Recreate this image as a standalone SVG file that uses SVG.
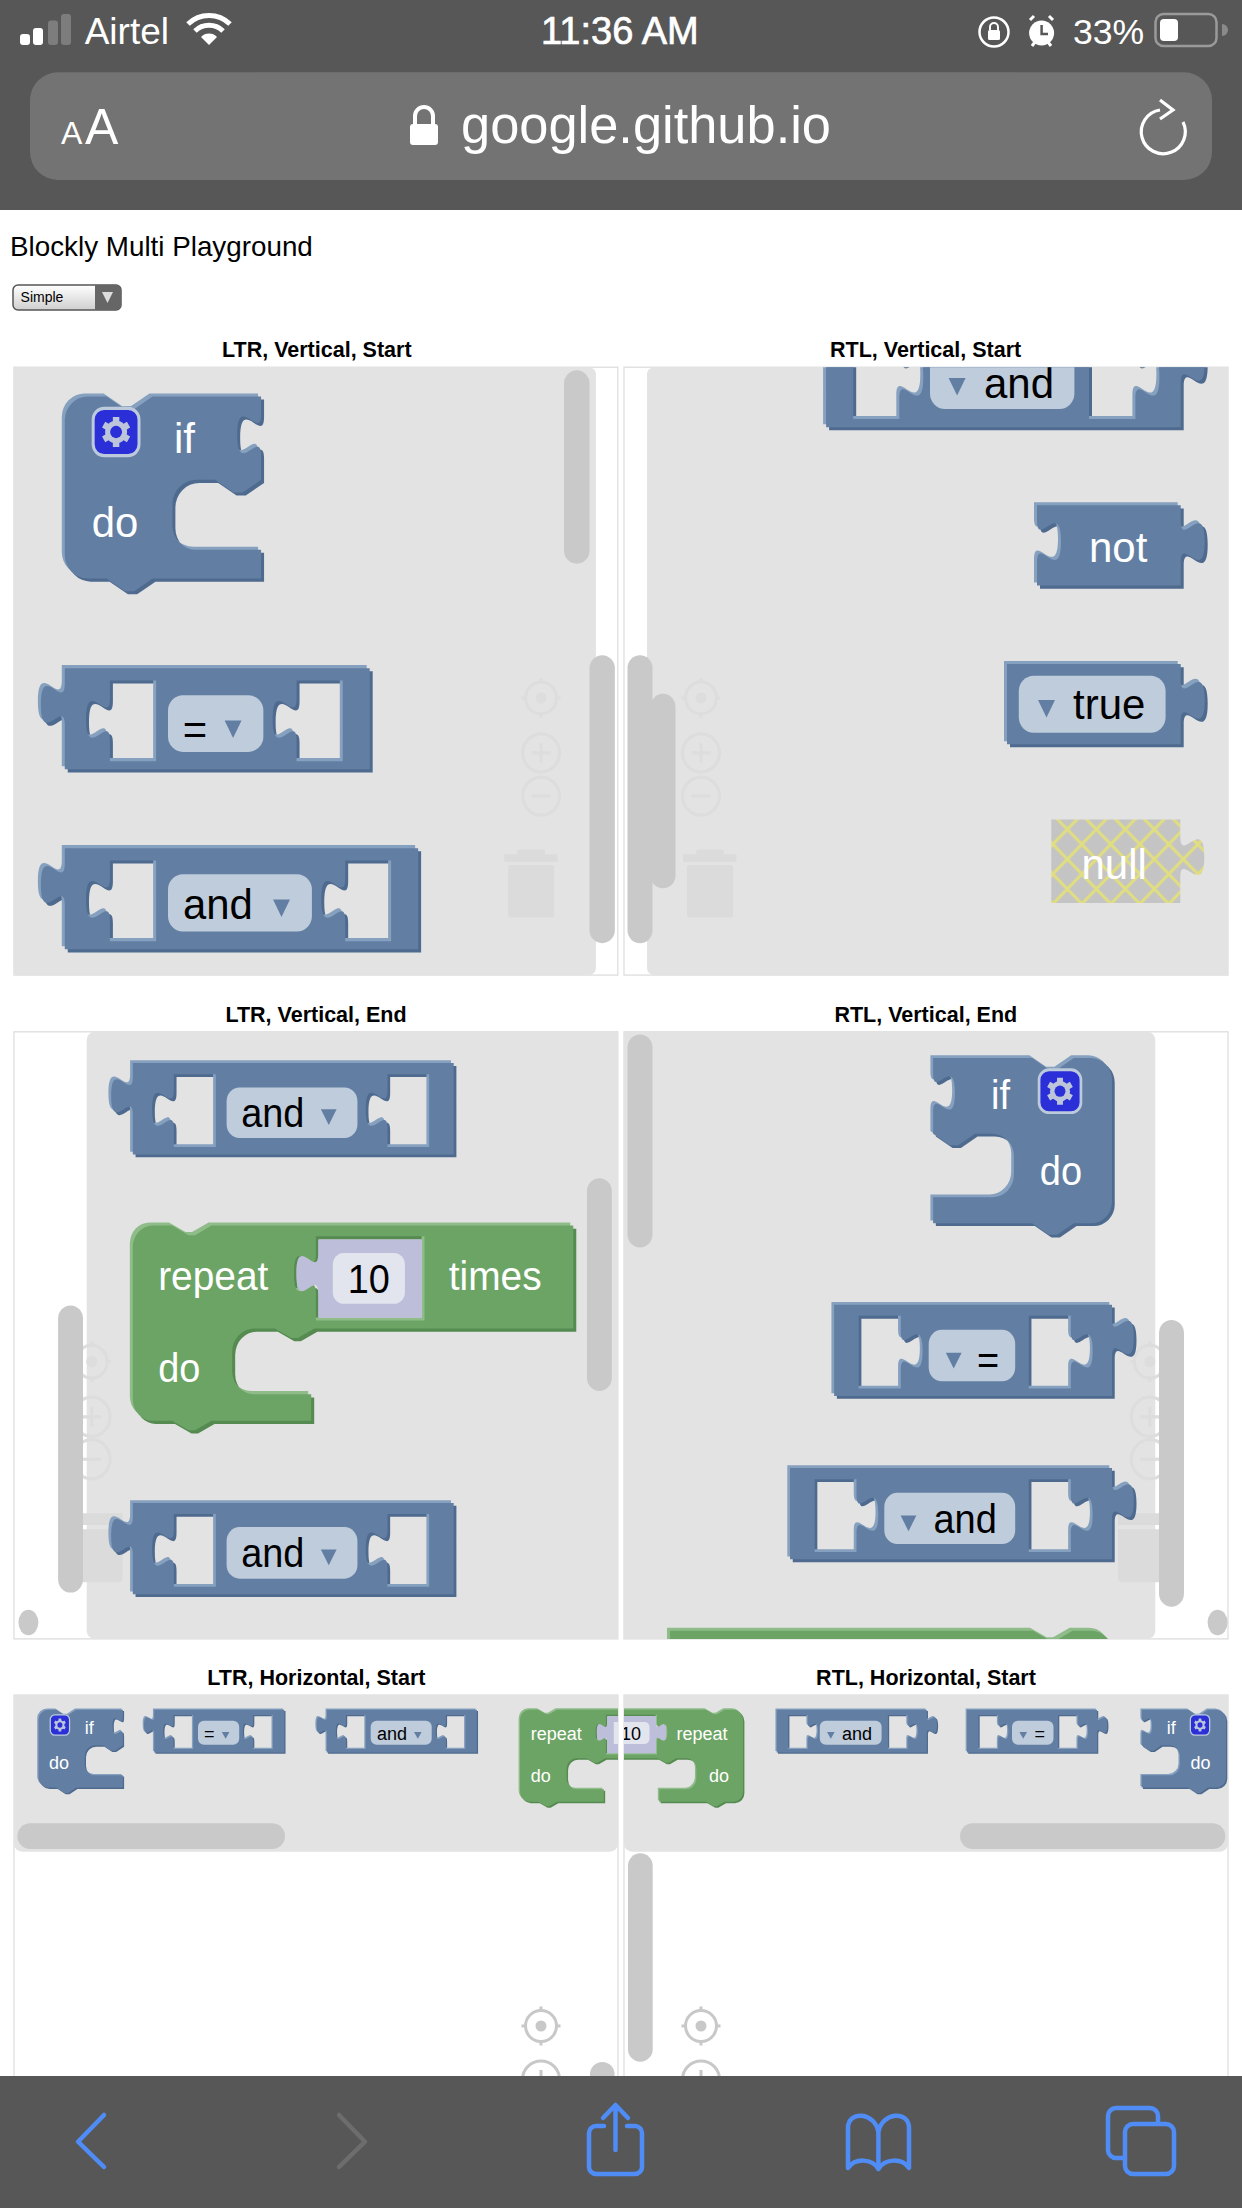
<svg xmlns="http://www.w3.org/2000/svg" width="1242" height="2208" viewBox="0 0 1242 2208">
<style>
text{font-family:"Liberation Sans",Arial,sans-serif}
.d{fill:#4f6a8f}.l{fill:#86a0bf}.m{fill:#627fa3}
.gd{fill:#558a50}.gl{fill:#8fbc89}.gm{fill:#6ca465}
.f{fill:#bfccdc}.w{fill:#fff}.k{fill:#000}
.t42{font-size:42px}.t38{font-size:38px}.t18{font-size:18px}
.h{font-size:21.5px;font-weight:bold;text-anchor:middle;fill:#000}
.bar{fill:#c9c9c9}.ws{fill:#e3e3e3}.pn{fill:#fff;stroke:#dcdcdc;stroke-width:1.2}
.tri{fill:#627fa3}
.trash{fill:#dbdbdb}
.blue{fill:none;stroke:#4f8cf5;stroke-linecap:round;stroke-linejoin:round}
</style>
<defs>
<linearGradient id="sel" x1="0" y1="0" x2="0" y2="1"><stop offset="0" stop-color="#fff"/><stop offset="1" stop-color="#cfcfcf"/></linearGradient>
<path id="p-and" fill-rule="evenodd" d="M0,0H354.6V98.4H0V55.5c0,-27 -24,21.6 -24,-20.25s24,6.75 24,-20.25V0ZM45.3,12H91.7V90.4H45.3V70c0,-27 -24,21.6 -24,-20.25s24,6.75 24,-20.25V12ZM281.4,12H327.5V90.4H281.4V70c0,-27 -24,21.6 -24,-20.25s24,6.75 24,-20.25V12Z"/>
<path id="p-eq" fill-rule="evenodd" d="M0,0H306V98.4H0V55.5c0,-27 -24,21.6 -24,-20.25s24,6.75 24,-20.25V0ZM45.3,12H91.7V90.4H45.3V70c0,-27 -24,21.6 -24,-20.25s24,6.75 24,-20.25V12ZM232.6,12H279V90.4H232.6V70c0,-27 -24,21.6 -24,-20.25s24,6.75 24,-20.25V12Z"/>
<path id="p-if" d="M0,23A23,23 0 0 1 23,0H42l18.4,12.3 9.2,0 18.4,-12.3H197V17c0,27 -24,-21.6 -24,20.25s24,-6.75 24,20.25V81l-18.4,12.3 -9.2,0 -18.4,-12.3H132A24,24 0 0 0 108,105V125A24,24 0 0 0 132,149H197V177H88l-18.4,12.3 -9.2,0 -18.4,-12.3H23A23,23 0 0 1 0,154Z"/>
<path id="p-not" d="M0,0H143.7V15c0,27 -24,-21.6 -24,20.25s24,-6.75 24,20.25V78H0V55.5c0,-27 -24,21.6 -24,-20.25s24,6.75 24,-20.25V0Z"/>
<path id="p-true" d="M0,0H173.7V78H0V55.5c0,-27 -24,21.6 -24,-20.25s24,6.75 24,-20.25V0Z"/>
<path id="p-null" d="M0,0H129V81H0V56c0,-25 -24,21 -24,-19.5s24,6 24,-19.5V0Z"/>
<path id="p-rep" fill-rule="evenodd" d="M0,20A20,20 0 0 1 20,0H39.3l16.6,9 6.5,0 16.6,-9H442V97H182.2l-16.6,9 -6.5,0 -16.6,-9H122A22,22 0 0 0 99.7,119V137A22,22 0 0 0 122,159H179V184H79l-16.6,9 -6.5,0 -16.6,-9H20A20,20 0 0 1 0,164ZM183.7,10H292.7V89.6H183.7V64c0,-25 -22,20 -22,-18.7s22,6 22,-18.7V10Z"/>
<path id="p-shadow" d="M186,13H290V87H186V64c0,-25 -22,20 -22,-18.7s22,6 22,-18.7V13Z" fill="#bdbed9"/>
<g id="b-and"><use href="#p-and" class="d" x="3" y="3"/><use href="#p-and" class="l" x="-3" y="-3"/><use href="#p-and" class="m"/></g>
<g id="b-and-r"><use href="#p-and" class="d" transform="translate(3,3) scale(-1,1)"/><use href="#p-and" class="l" transform="translate(-3,-3) scale(-1,1)"/><use href="#p-and" class="m" transform="scale(-1,1)"/></g>
<g id="b-eq"><use href="#p-eq" class="d" x="3" y="3"/><use href="#p-eq" class="l" x="-3" y="-3"/><use href="#p-eq" class="m"/></g>
<g id="b-eq-r"><use href="#p-eq" class="d" transform="translate(3,3) scale(-1,1)"/><use href="#p-eq" class="l" transform="translate(-3,-3) scale(-1,1)"/><use href="#p-eq" class="m" transform="scale(-1,1)"/></g>
<g id="b-if"><use href="#p-if" class="d" x="3" y="3"/><use href="#p-if" class="l" x="-3" y="-3"/><use href="#p-if" class="m"/></g>
<g id="b-if-r"><use href="#p-if" class="d" transform="translate(3,3) scale(-1,1)"/><use href="#p-if" class="l" transform="translate(-3,-3) scale(-1,1)"/><use href="#p-if" class="m" transform="scale(-1,1)"/></g>
<g id="b-rep"><use href="#p-rep" class="gd" x="3" y="3"/><use href="#p-rep" class="gl" x="-3" y="-3"/><use href="#p-rep" class="gm"/><use href="#p-shadow"/></g>
<g id="b-rep-r"><use href="#p-rep" class="gd" transform="translate(3,3) scale(-1,1)"/><use href="#p-rep" class="gl" transform="translate(-3,-3) scale(-1,1)"/><use href="#p-rep" class="gm" transform="scale(-1,1)"/><use href="#p-shadow" transform="scale(-1,1)"/></g>
<path id="tri" d="M0,0H17L8.5,17Z"/>
<g id="gear"><rect x="-23" y="-23" width="46" height="46" rx="11" fill="#2a2fd8" stroke="#bccadc" stroke-width="3"/><path d="M0,-14.5V14.5M-12.5,-7.2L12.5,7.2M-12.5,7.2L12.5,-7.2" stroke="#bcc5da" stroke-width="6.5"/><circle r="11" fill="#bcc5da"/><circle r="6" fill="#2a2fd8"/></g>
<g id="ctl-t" fill="none" stroke="currentColor" stroke-width="3"><circle r="15.5"/><circle r="5.5" fill="currentColor" stroke="none"/><path d="M0,-19.5V-14M0,19.5V14M-19.5,0H-14M19.5,0H14"/></g>
<g id="ctl-p" fill="none" stroke="currentColor" stroke-width="3"><circle r="18.5"/><path d="M-9.5,0H9.5M0,-9.5V9.5"/></g>
<g id="ctl-m" fill="none" stroke="currentColor" stroke-width="3"><circle r="18.5"/><path d="M-9.5,0H9.5"/></g>
<g id="trash" class="trash"><rect x="0" y="4.5" width="53.5" height="7.5"/><rect x="13" y="0" width="28" height="5" rx="2.5"/><rect x="4" y="15" width="46" height="51" rx="2"/></g>
<pattern id="hatch" patternUnits="userSpaceOnUse" width="29" height="29" x="1084.5" y="807"><rect width="29" height="29" fill="#c4c4c4"/><path d="M0,0L29,29M29,0L0,29" stroke="#e0de80" stroke-width="3" fill="none"/></pattern>
<clipPath id="c2"><rect x="624" y="367" width="604" height="591"/></clipPath>
<clipPath id="c4"><rect x="624" y="1030" width="604" height="572.4"/></clipPath>
<clipPath id="c5"><rect x="14" y="1695" width="604" height="156.7"/></clipPath>
<clipPath id="c6"><rect x="624" y="1695" width="604" height="156.7"/></clipPath>
</defs>

<rect width="1242" height="2208" fill="#fff"/>

<g id="page-head">
<text x="10" y="256" font-size="27.8" fill="#000">Blockly Multi Playground</text>
<g id="select"><rect x="13" y="285" width="108" height="25" rx="5" fill="url(#sel)" stroke="#555" stroke-width="1.5"/><path d="M95,285H116a5,5 0 0 1 5,5V305a5,5 0 0 1 -5,5H95Z" fill="#666"/><path d="M102,292H113L107.5,303Z" fill="#ddd"/><text x="20.6" y="301.7" font-size="14" fill="#000">Simple</text></g>
<text class="h" x="316.8" y="356.5">LTR, Vertical, Start</text>
<text class="h" x="925.6" y="356.5">RTL, Vertical, Start</text>
<text class="h" x="316" y="1021.5">LTR, Vertical, End</text>
<text class="h" x="925.8" y="1021.5">RTL, Vertical, End</text>
<text class="h" x="316.4" y="1685">LTR, Horizontal, Start</text>
<text class="h" x="926" y="1685">RTL, Horizontal, Start</text>
</g>

<g id="panel-ltr-v-start" transform="translate(0,360) scale(.9965,1.02857) translate(0,-360)">
<rect class="pn" x="14" y="367" width="606" height="591"/>
<path class="ws" d="M14,367H591a7,7 0 0 1 7,7V951a7,7 0 0 1 -7,7H14Z"/>
<use href="#ctl-t" x="543" y="688.6" style="color:#dddddd"/><use href="#ctl-p" x="543" y="742" style="color:#dddddd"/><use href="#ctl-m" x="543" y="784" style="color:#dddddd"/>
<use href="#trash" x="506" y="836"/>
<rect class="bar" x="566" y="370" width="25.6" height="188" rx="12.8"/>
<rect class="bar" x="591.6" y="647" width="25.4" height="280" rx="12.7"/>
<g id="n1-if"><use href="#b-if" transform="translate(65,395.5)"/><use href="#gear" x="116.5" y="430"/><text class="w t42" x="174.6" y="450.5">if</text><text class="w t42" x="92" y="532">do</text></g>
<g id="n1-eq"><use href="#b-eq" transform="translate(65,659.6)"/><rect class="f" x="168.6" y="686" width="95.7" height="55" rx="15"/><text class="k t42" x="183.5" y="733">=</text><use href="#tri" class="tri" x="225.4" y="710.5"/></g>
<g id="n1-and"><use href="#b-and" transform="translate(65,834.6)"/><rect class="f" x="168.6" y="860" width="144.4" height="55.6" rx="15"/><text class="k t42" x="183.7" y="903">and</text><use href="#tri" class="tri" x="274" y="884.6"/></g>
</g>

<g id="panel-rtl-v-start" transform="translate(0,360) scale(1,1.02857) translate(0,-360)">
<rect class="pn" x="624" y="367" width="604" height="591"/>
<path class="ws" d="M654,367H1228V958H654a7,7 0 0 1 -7,-7V374a7,7 0 0 1 7,-7Z"/>
<use href="#ctl-t" x="701" y="688.6" style="color:#dddddd"/><use href="#ctl-p" x="701" y="742" style="color:#dddddd"/><use href="#ctl-m" x="701" y="784" style="color:#dddddd"/>
<use href="#trash" x="683" y="836"/>
<rect class="bar" x="627.5" y="647" width="25" height="280" rx="12.5"/>
<rect class="bar" x="650.5" y="684.6" width="25" height="189" rx="12.5"/>
<g id="n2-and" clip-path="url(#c2)"><use href="#b-and-r" transform="translate(1180.7,327)"/><rect class="f" x="930" y="352" width="144.4" height="55.6" rx="15"/><text class="k t42" x="984" y="396.5">and</text><use href="#tri" class="tri" x="948.6" y="377.5"/></g>
<g id="n2-not"><use href="#p-not" class="d" transform="translate(1183.7,504.3) scale(-1,1)"/><use href="#p-not" class="l" transform="translate(1177.7,498.3) scale(-1,1)"/><use href="#p-not" class="m" transform="translate(1180.7,501.3) scale(-1,1)"/><text class="w t42" x="1089" y="556.4">not</text></g>
<g id="n2-true"><use href="#p-true" class="d" transform="translate(1183.7,658.6) scale(-1,1)"/><use href="#p-true" class="l" transform="translate(1177.7,652.6) scale(-1,1)"/><use href="#p-true" class="m" transform="translate(1180.7,655.6) scale(-1,1)"/><rect class="f" x="1018.8" y="667" width="146.8" height="55.3" rx="15"/><use href="#tri" class="tri" x="1038" y="690.5"/><text class="k t42" x="1073" y="709.2">true</text></g>
<g id="n2-null"><use href="#p-null" fill="url(#hatch)" transform="translate(1180.3,806.8) scale(-1,1)"/><text class="w t42" x="1081.5" y="864.8">null</text></g>
</g>

<g id="panel-ltr-v-end" transform="translate(0,1000) scale(.9965,1.0606) translate(0,-1000)">
<rect class="pn" x="14" y="1030" width="606" height="572.4"/>
<path class="ws" d="M95,1030H620V1602.4H95a8,8 0 0 1 -8,-8V1038a8,8 0 0 1 8,-8Z"/>
<use href="#ctl-t" x="92" y="1341" style="color:#dddddd"/><use href="#ctl-p" x="92" y="1393" style="color:#dddddd"/><use href="#ctl-m" x="92" y="1433" style="color:#dddddd"/>
<path class="trash" d="M70,1484H123V1495H70ZM70,1499H123V1545a4,4 0 0 1 -4,4H70Z"/>
<rect class="bar" x="58.3" y="1288" width="25" height="270.7" rx="12.5"/>
<ellipse class="bar" cx="28.5" cy="1587" rx="10" ry="12"/>
<rect class="bar" x="589" y="1168" width="25" height="200.6" rx="12.5"/>
<g id="n3-and1"><use href="#b-and" transform="translate(133.3,1059.5) scale(.908,.875)"/><rect class="f" x="227.4" y="1082.5" width="131.3" height="47.7" rx="13"/><text class="k t38" x="242" y="1119.8">and</text><use href="#tri" class="tri" transform="translate(322,1103) scale(.93,.88)"/></g>
<g id="n3-repeat"><use href="#b-rep" transform="translate(133.3,1212.7)"/><rect x="334" y="1238.5" width="72.3" height="48" rx="11" fill="#e3e5ee"/><text class="k t38" x="349" y="1276.6">10</text><text class="w" font-size="39" x="158.7" y="1273.8">repeat</text><text class="w" font-size="39" x="450.4" y="1273.8">times</text><text class="w t38" x="158.7" y="1360.3">do</text></g>
<g id="n3-and2"><use href="#b-and" transform="translate(133.3,1474.2) scale(.908,.875)"/><rect class="f" x="227.4" y="1497" width="131.3" height="48.6" rx="13"/><text class="k t38" x="242" y="1534.5">and</text><use href="#tri" class="tri" transform="translate(322,1518) scale(.93,.88)"/></g>
</g>

<g id="panel-rtl-v-end" transform="translate(0,1000) scale(1,1.0606) translate(0,-1000)">
<rect class="pn" x="624" y="1030" width="604" height="572.4"/>
<path class="ws" d="M624,1030H1147.3a8,8 0 0 1 8,8V1594.4a8,8 0 0 1 -8,8H624Z"/>
<use href="#ctl-t" x="1149.8" y="1341" style="color:#dddddd"/><use href="#ctl-p" x="1149.8" y="1393" style="color:#dddddd"/><use href="#ctl-m" x="1149.8" y="1433" style="color:#dddddd"/>
<path class="trash" d="M1118,1484H1165V1495H1118ZM1118,1499H1165V1549H1122a4,4 0 0 1 -4,-4Z"/>
<rect class="bar" x="627.5" y="1032.5" width="25" height="200.8" rx="12.5"/>
<rect class="bar" x="1159" y="1301.6" width="25" height="270.4" rx="12.5"/>
<ellipse class="bar" cx="1217.6" cy="1587" rx="10" ry="12"/>
<g id="n4-if"><use href="#b-if-r" transform="translate(1112,1054.8) scale(.908,.88)"/><use href="#gear" transform="translate(1060,1086) scale(.91,.88)"/><text class="w t38" x="991" y="1103">if</text><text class="w t38" x="1039.8" y="1174.6">do</text></g>
<g id="n4-eq"><use href="#b-eq-r" transform="translate(1112,1287.3) scale(.908,.875)"/><rect class="f" x="928.7" y="1311" width="86.5" height="48.5" rx="13"/><use href="#tri" class="tri" transform="translate(945.8,1332.5) scale(.93,.88)"/><text class="k t38" x="977" y="1352.6">=</text></g>
<g id="n4-and"><use href="#b-and-r" transform="translate(1112,1441.3) scale(.908,.875)"/><rect class="f" x="884.3" y="1464.7" width="130.9" height="48.3" rx="13"/><use href="#tri" class="tri" transform="translate(900.6,1486) scale(.93,.88)"/><text class="k t38" x="933.5" y="1503">and</text></g>
<g id="n4-repeat" clip-path="url(#c4)"><use href="#b-rep-r" transform="translate(1112,1594.8)"/></g>
</g>

<g id="panel-ltr-h-start">
<rect class="pn" x="14" y="1695" width="604" height="420"/>
<path class="ws" d="M14,1695H618V1843.7a8,8 0 0 1 -8,8H22a8,8 0 0 1 -8,-8Z"/>
<rect class="bar" x="17.4" y="1823.3" width="267.6" height="25.7" rx="12.8"/>
<use href="#ctl-t" x="541" y="2026" style="color:#c8c8c8"/><use href="#ctl-p" x="541" y="2079.5" style="color:#c8c8c8"/>
<rect class="bar" x="590" y="2062" width="24.6" height="30" rx="12.3"/>
<g id="n5-if"><use href="#b-if" transform="translate(38.5,1709.7) scale(.428,.44)"/><use href="#gear" transform="translate(59.9,1725) scale(.42,.44)"/><text class="w t18" x="84.8" y="1734">if</text><text class="w t18" x="49" y="1769">do</text></g>
<g id="n5-eq"><use href="#b-eq" transform="translate(154.2,1709.7) scale(.425,.434)"/><rect class="f" x="198" y="1720.7" width="41.2" height="24" rx="6"/><text class="k t18" x="204" y="1740">=</text><use href="#tri" class="tri" transform="translate(221.8,1732) scale(.45,.4)"/></g>
<g id="n5-and"><use href="#b-and" transform="translate(326.8,1709.7) scale(.423,.434)"/><rect class="f" x="370.7" y="1720.7" width="61" height="24" rx="6"/><text class="k t18" x="377" y="1740">and</text><use href="#tri" class="tri" transform="translate(414,1732) scale(.45,.4)"/></g>
<g id="n5-repeat" clip-path="url(#c5)"><use href="#b-rep" transform="translate(520,1709.7) scale(.468,.5)"/><rect x="613.8" y="1722" width="10" height="22" fill="#e3e5ee"/><text class="w t18" x="530.7" y="1740">repeat</text><text class="w t18" x="530.7" y="1782.3">do</text></g>
</g>

<g id="panel-rtl-h-start">
<rect class="pn" x="624" y="1695" width="604" height="420"/>
<path class="ws" d="M624,1695H1228V1843.7a8,8 0 0 1 -8,8H632a8,8 0 0 1 -8,-8Z"/>
<rect class="bar" x="960" y="1823.3" width="265.3" height="25.7" rx="12.8"/>
<rect class="bar" x="628" y="1853.3" width="24.7" height="208.4" rx="12.3"/>
<use href="#ctl-t" x="701" y="2026" style="color:#c8c8c8"/><use href="#ctl-p" x="701" y="2079.5" style="color:#c8c8c8"/>
<g id="n6-and"><use href="#b-and-r" transform="translate(926.7,1709.7) scale(.423,.434)"/><rect class="f" x="819.8" y="1720.7" width="61.8" height="24" rx="6"/><use href="#tri" class="tri" transform="translate(827,1732) scale(.45,.4)"/><text class="k t18" x="842" y="1740">and</text></g>
<g id="n6-eq"><use href="#b-eq-r" transform="translate(1097,1709.7) scale(.425,.434)"/><rect class="f" x="1012" y="1720.7" width="41.5" height="24" rx="6"/><use href="#tri" class="tri" transform="translate(1019.4,1732) scale(.45,.4)"/><text class="k t18" x="1034.4" y="1740">=</text></g>
<g id="n6-if" clip-path="url(#c6)"><use href="#b-if-r" transform="translate(1226,1709.7) scale(.428,.44)"/><use href="#gear" transform="translate(1200,1725) scale(.42,.44)"/><text class="w t18" x="1166.7" y="1734">if</text><text class="w t18" x="1190.5" y="1769">do</text></g>
<g id="n6-repeat" clip-path="url(#c6)"><use href="#b-rep-r" transform="translate(743,1709.7) scale(.468,.5)"/><rect x="614" y="1722" width="35.5" height="22" rx="5" fill="#e3e5ee"/><text class="k t18" x="621" y="1740">10</text><text class="w t18" x="676.4" y="1740">repeat</text><text class="w t18" x="709" y="1782.3">do</text></g>
</g>

<g id="safari-top">
<rect width="1242" height="210" fill="#575757"/>
<rect x="30" y="72.3" width="1182" height="107.7" rx="28" fill="#737373"/>
<rect x="20" y="34" width="10" height="11" rx="3" fill="#fff"/><rect x="33" y="28" width="10" height="17" rx="3" fill="#fff"/><rect x="48" y="20.6" width="10" height="24.4" rx="3" fill="#7d7d7d"/><rect x="61" y="14" width="10" height="31" rx="3" fill="#7d7d7d"/>
<text x="84.7" y="43.5" font-size="37" fill="#fff">Airtel</text>
<path d="M188,24A30,30 0 0 1 230,24M195,31A20,20 0 0 1 223,31" fill="none" stroke="#fff" stroke-width="5"/><path d="M209,45L201,37A11,11 0 0 1 217,37Z" fill="#fff"/>
<text x="541" y="43.5" font-size="38" fill="#fff" stroke="#fff" stroke-width=".7">11:36 AM</text>
<circle cx="994" cy="32" r="14.5" fill="none" stroke="#fff" stroke-width="2.5"/><rect x="988" y="30" width="12" height="10" rx="1.5" fill="#fff"/><path d="M990,30V27a4,4 0 0 1 8,0V30" fill="none" stroke="#fff" stroke-width="2"/>
<circle cx="1041.6" cy="33" r="12.5" fill="#fff"/><path d="M1041.6,25V34H1048" fill="none" stroke="#575757" stroke-width="2.5"/><path d="M1030,20L1034,16M1053,20L1049,16M1032,46L1035,42M1051,46L1048,42" stroke="#fff" stroke-width="3"/>
<text x="1073" y="43.5" font-size="35.6" fill="#fff">33%</text>
<rect x="1155.5" y="14" width="61" height="32" rx="8" fill="none" stroke="#9a9a9a" stroke-width="2.5"/><rect x="1160" y="19" width="18" height="22" rx="4" fill="#fff"/><path d="M1222,24a6,6 0 0 1 0,12Z" fill="#8a8a8a"/>
<text x="61" y="144" font-size="32" fill="#fff">A</text><text x="85" y="144" font-size="50" fill="#fff">A</text>
<rect x="410" y="124" width="28" height="21" rx="3" fill="#fff"/><path d="M415,124V116a9,9 0 0 1 18,0V124" fill="none" stroke="#fff" stroke-width="4"/>
<text x="461" y="143.3" font-size="52.4" fill="#fff">google.github.io</text>
<path d="M1160,110A22,22 0 1 0 1183,122" fill="none" stroke="#fff" stroke-width="3.2"/><path d="M1160,100L1173,110L1160,119" fill="none" stroke="#fff" stroke-width="3.2"/>
</g>

<g id="safari-bottom">
<rect y="2076" width="1242" height="132" fill="#575757"/>
<path class="blue" stroke-width="4.5" d="M104,2115L78,2141.7L104,2167"/>
<path fill="none" stroke="#6d6d6d" stroke-width="4.5" stroke-linecap="round" stroke-linejoin="round" d="M339,2115L365,2141.7L339,2167"/>
<path class="blue" stroke-width="4.5" d="M604,2126H596a7,7 0 0 0 -7,7V2167a7,7 0 0 0 7,7H635a7,7 0 0 0 7,-7V2133a7,7 0 0 0 -7,-7H627M615.5,2150V2106M603,2118L615.5,2105L628,2118"/>
<path class="blue" stroke-width="4.5" d="M878.4,2132V2169M878.4,2132C875,2112 848,2110 848,2128V2168C855,2158 872,2158 878.4,2169C885,2158 902,2158 909,2168V2128C909,2110 882,2112 878.4,2132Z"/>
<path class="blue" stroke-width="4.5" d="M1158,2122V2116a8,8 0 0 0 -8,-8H1116a8,8 0 0 0 -8,8V2150a8,8 0 0 0 8,8H1125"/>
<rect class="blue" stroke-width="4.5" x="1125" y="2124" width="49" height="50" rx="8"/>
</g>
</svg>
